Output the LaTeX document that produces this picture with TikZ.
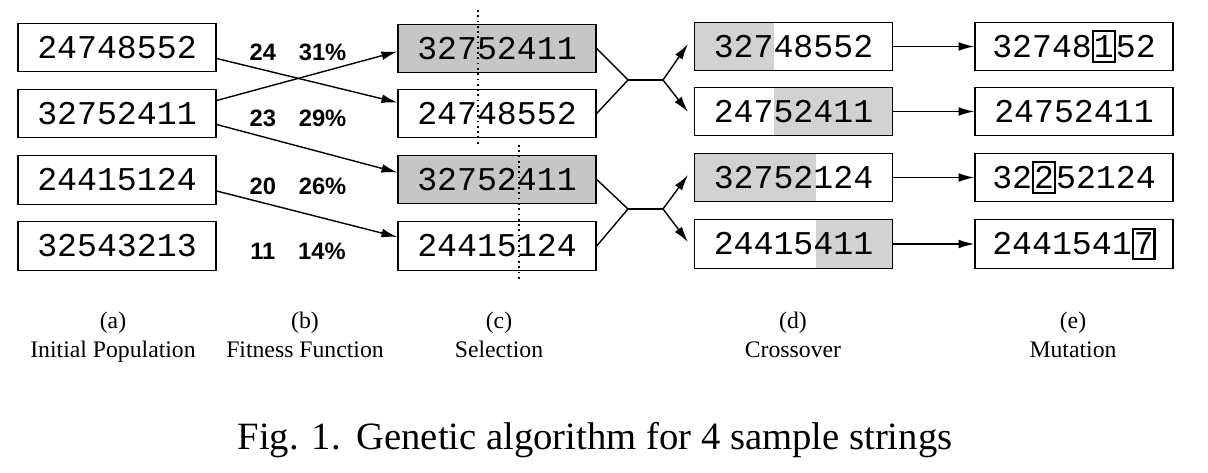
\documentclass[tikz,border=0pt]{standalone}
\usepackage{fontspec}
\setmainfont{Liberation Serif}
\newfontfamily\dig{Liberation Mono}
\newfontfamily\bsans{Liberation Sans}
\usetikzlibrary{arrows.meta,calc}
\newcommand\mbx[1]{\tikz[baseline=(m.base)]\node[draw,line width=1.3pt,minimum width=0pt,minimum height=0pt,inner xsep=0.5pt,inner ysep=2.5pt,outer sep=0pt](m){#1};}
\begin{document}
\begin{tikzpicture}[x=0.02cm,y=-0.02cm,
  sbox/.style={draw,line width=0.8pt,minimum width=3.96cm,minimum height=0.97cm,inner sep=0pt,font=\dig\fontsize{18.9}{20}\selectfont},
  fit/.style={font=\bsans\bfseries\fontsize{13.5}{15}\selectfont},
  lab/.style={font=\fontsize{13.5}{17}\selectfont,align=center},
  arr/.style={-{Latex[length=9pt,width=5pt]},line width=0.8pt},
  ln/.style={line width=0.8pt}]
\useasboundingbox (0,0) rectangle (1208,473);
% fills
\fill[gray!45] (398,24) rectangle (596,73);
\fill[gray!45] (398,155) rectangle (596,204);
\fill[gray!35] (694,22) rectangle (774,71);
\fill[gray!35] (774,87) rectangle (893,136);
\fill[gray!35] (694,153) rectangle (816,202);
\fill[gray!35] (816,220) rectangle (893,268);
% (a)
\node[sbox] (a1) at (117,47.5) {24748552};
\node[sbox] (a2) at (117,113.5) {32752411};
\node[sbox] (a3) at (117,180) {24415124};
\node[sbox] (a4) at (117,246) {32543213};
% (b)
\node[fit] (b1) at (298,52) {24\hspace{13pt}31\%};
\node[fit] (b2) at (298,118) {23\hspace{13pt}29\%};
\node[fit] (b3) at (298,186) {20\hspace{13pt}26\%};
\node[fit] (b4) at (298,251) {11\hspace{13pt}14\%};
% (c)
\node[sbox] (c1) at (497,48.5) {32752411};
\node[sbox] (c2) at (497,113.5) {24748552};
\node[sbox] (c3) at (497,179.5) {32752411};
\node[sbox] (c4) at (497,246) {24415124};
\draw[dotted,line width=1pt] (478,10) -- (478,145);
\draw[dotted,line width=1pt] (519,145) -- (519,280);
% (d)
\node[sbox] (d1) at (793.5,46.5) {32748552};
\node[sbox] (d2) at (793.5,111.5) {24752411};
\node[sbox] (d3) at (793.5,177.5) {32752124};
\node[sbox] (d4) at (793.5,244) {24415411};
% (e)
\node[sbox] (e1) at (1074,46.5) {32748\mbx{1}52};
\node[sbox] (e2) at (1074,111.5) {24752411};
\node[sbox] (e3) at (1074,177.5) {32\mbx{2}52124};
\node[sbox] (e4) at (1074,244) {2441541\mbx{7}};
% a -> c
\draw[arr] ($(a1.east)+(0,11)$) -- ($(c2.west)+(0,-11)$);
\draw[arr] ($(a2.east)+(0,-13)$) -- ($(c1.west)+(0,3)$);
\draw[arr] ($(a2.east)+(0,11)$) -- ($(c3.west)+(0,-7)$);
\draw[arr] ($(a3.east)+(0,11)$) -- ($(c4.west)+(0,-9)$);
% crossover
\coordinate (j1) at (628,80); \coordinate (k1) at (663,80);
\coordinate (j2) at (628,209); \coordinate (k2) at (663,209);
\draw[ln] (c1.east) -- (j1) -- (c2.east);
\draw[ln] (j1) -- (k1);
\draw[arr] (k1) -- (688,44);
\draw[arr] (k1) -- (688,112);
\draw[ln] (c3.east) -- (j2) -- (c4.east);
\draw[ln] (j2) -- (k2);
\draw[arr] (k2) -- (688,175);
\draw[arr] (k2) -- (688,242);
% d -> e
\foreach \i in {1,2,3,4} \draw[arr] (d\i.east) -- (e\i.west);
% labels
\node[lab] (la) at (113,337) {\strut(a)\\\strut Initial Population};
\node[lab] (lb) at (305,337) {\strut(b)\\\strut Fitness Function};
\node[lab] (lc) at (499,337) {\strut(c)\\\strut Selection};
\node[lab] (ld) at (793,337) {\strut(d)\\\strut Crossover};
\node[lab] (le) at (1073,337) {\strut(e)\\\strut Mutation};
\node[font=\fontsize{22}{25}\selectfont] (cap) at (595,440) {Fig. 1.\hspace{9pt}Genetic algorithm for 4 sample strings};
\end{tikzpicture}
\end{document}
